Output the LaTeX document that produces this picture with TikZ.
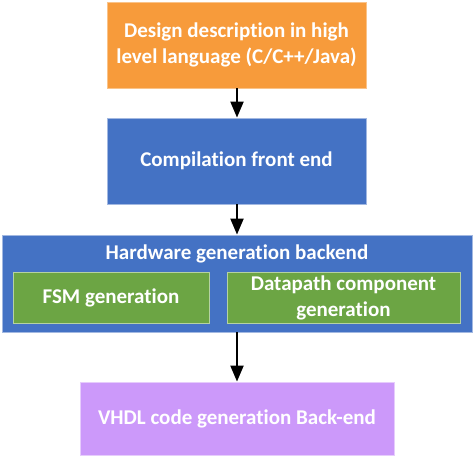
\documentclass[tikz,border=0pt]{standalone}
\usepackage{fontspec}
\setmainfont{Carlito}[Ligatures=NoCommon]
\usetikzlibrary{arrows.meta}
\definecolor{orng}{HTML}{F79B3B}
\definecolor{blu}{HTML}{4472C4}
\definecolor{grn}{HTML}{6CA544}
\definecolor{prp}{HTML}{CC99FA}
\tikzset{
  box/.style={rectangle, text=white, font=\fontsize{21}{26}\selectfont\bfseries, align=center, inner sep=0pt, line width=0.8pt},
  arr/.style={-{Triangle[length=16pt,width=13pt]}, line width=2pt, black}
}
\begin{document}
\begin{tikzpicture}[x=1pt,y=1pt]
\useasboundingbox (0,0) rectangle (474,457);
\node[box, fill=orng, draw=orng!60!white, minimum width=259pt, minimum height=86pt] (src) at (236.5,412) {Design description in high\\level language (C/C++/Java)};
\node[box, fill=blu, draw=blu!50!white, minimum width=259pt, minimum height=86pt] (fe) at (236.5,296) {Compilation front end};
\node[box, fill=blu, draw=blu!50!white, minimum width=470pt, minimum height=97pt] (hw) at (237,173.5) {};
\node[box] (hwt) at (237,203) {Hardware generation backend};
\node[box, fill=grn, draw=grn!50!white, minimum width=196pt, minimum height=51pt] (fsm) at (111,159.5) {FSM generation};
\node[box, fill=grn, draw=grn!50!white, minimum width=233pt, minimum height=51pt] (dp) at (343.5,159.5) {Datapath component\\generation};
\node[box, fill=prp, draw=prp!50!white, minimum width=314pt, minimum height=73pt] (vhdl) at (237,38.5) {VHDL code generation Back-end};
\draw[arr] (src.south -| 237,0) -- (fe.north -| 237,0);
\draw[arr] (fe.south -| 237,0) -- (hw.north -| 237,0);
\draw[arr] (hw.south -| 237,0) -- (vhdl.north -| 237,0);
\end{tikzpicture}
\end{document}
